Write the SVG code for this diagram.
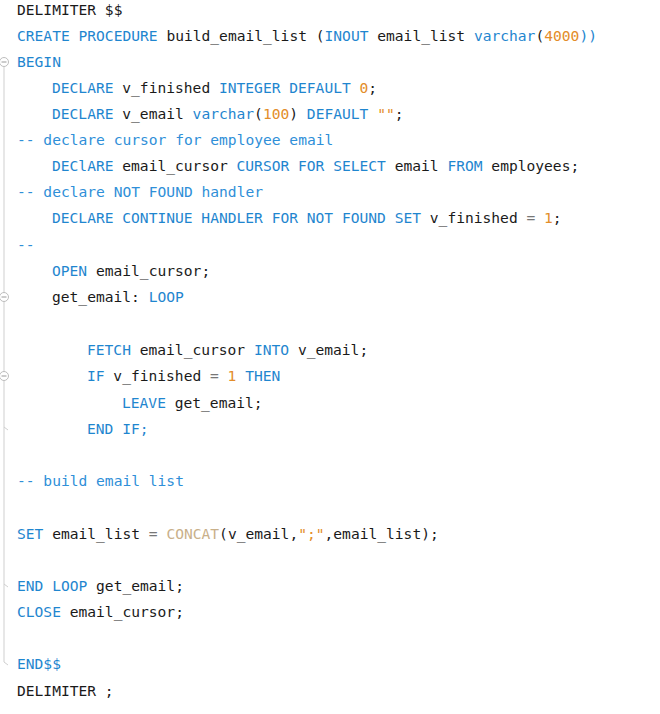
<svg xmlns="http://www.w3.org/2000/svg" width="660" height="714" viewBox="0 0 660 714">
<style>
text{font-family:"DejaVu Sans Mono","Liberation Mono",monospace;font-size:14.6px;fill:#1a1a1a;white-space:pre}
.k{fill:#1f86cf}.n{fill:#e38d2a}.c{fill:#2f8fd8}.f{fill:#c9b08a}.o{fill:#777}
.fold{fill:#fff;stroke:#bdbdbd;stroke-width:1}
.gl{stroke:#cfcfcf;stroke-width:1;fill:none}
</style>
<rect width="660" height="714" fill="#fff"/>
<g id="gutter">
<line class="gl" x1="4" y1="67" x2="4" y2="662"/>
<path class="gl" d="M4 427 l4 3 M4 584 l4 3 M4 662 l4 3"/>
<circle class="fold" cx="4" cy="62" r="4.5"/><line x1="1.5" y1="62" x2="6.5" y2="62" stroke="#999"/>
<circle class="fold" cx="4" cy="297" r="4.5"/><line x1="1.5" y1="297" x2="6.5" y2="297" stroke="#999"/>
<circle class="fold" cx="4" cy="376" r="4.5"/><line x1="1.5" y1="376" x2="6.5" y2="376" stroke="#999"/>
</g>
<g id="code" xml:space="preserve">
<text x="17" y="15">DELIMITER $$</text>
<text x="17" y="41"><tspan class="k">CREATE PROCEDURE</tspan> build_email_list (<tspan class="k">INOUT</tspan> email_list <tspan class="k">varchar</tspan>(<tspan class="n">4000</tspan><tspan class="k">))</tspan></text>
<text x="17" y="67" class="k">BEGIN</text>
<text x="52" y="93"><tspan class="k">DECLARE</tspan> v_finished <tspan class="k">INTEGER DEFAULT</tspan> <tspan class="n">0</tspan>;</text>
<text x="52" y="119"><tspan class="k">DECLARE</tspan> v_email <tspan class="k">varchar</tspan>(<tspan class="n">100</tspan>) <tspan class="k">DEFAULT</tspan> <tspan class="n">""</tspan>;</text>
<text x="17" y="145" class="c">-- declare cursor for employee email</text>
<text x="52" y="171"><tspan class="k">DEClARE</tspan> email_cursor <tspan class="k">CURSOR FOR SELECT</tspan> email <tspan class="k">FROM</tspan> employees;</text>
<text x="17" y="197" class="c">-- declare NOT FOUND handler</text>
<text x="52" y="223"><tspan class="k">DECLARE CONTINUE HANDLER FOR NOT FOUND SET</tspan> v_finished <tspan class="o">=</tspan> <tspan class="n">1</tspan>;</text>
<text x="17" y="250" class="c">--</text>
<text x="52" y="276"><tspan class="k">OPEN</tspan> email_cursor;</text>
<text x="52" y="302">get_email: <tspan class="k">LOOP</tspan></text>
<text x="87" y="355"><tspan class="k">FETCH</tspan> email_cursor <tspan class="k">INTO</tspan> v_email;</text>
<text x="87" y="381"><tspan class="k">IF</tspan> v_finished <tspan class="o">=</tspan> <tspan class="n">1</tspan> <tspan class="k">THEN</tspan></text>
<text x="122" y="408"><tspan class="k">LEAVE</tspan> get_email;</text>
<text x="87" y="434" class="k">END IF;</text>
<text x="17" y="486" class="c">-- build email list</text>
<text x="17" y="539"><tspan class="k">SET</tspan> email_list <tspan class="o">=</tspan> <tspan class="f">CONCAT</tspan>(v_email,<tspan class="n">";"</tspan>,email_list);</text>
<text x="17" y="591"><tspan class="k">END LOOP</tspan> get_email;</text>
<text x="17" y="617"><tspan class="k">CLOSE</tspan> email_cursor;</text>
<text x="17" y="669" class="k">END$$</text>
<text x="17" y="696">DELIMITER ;</text>
</g>
</svg>
